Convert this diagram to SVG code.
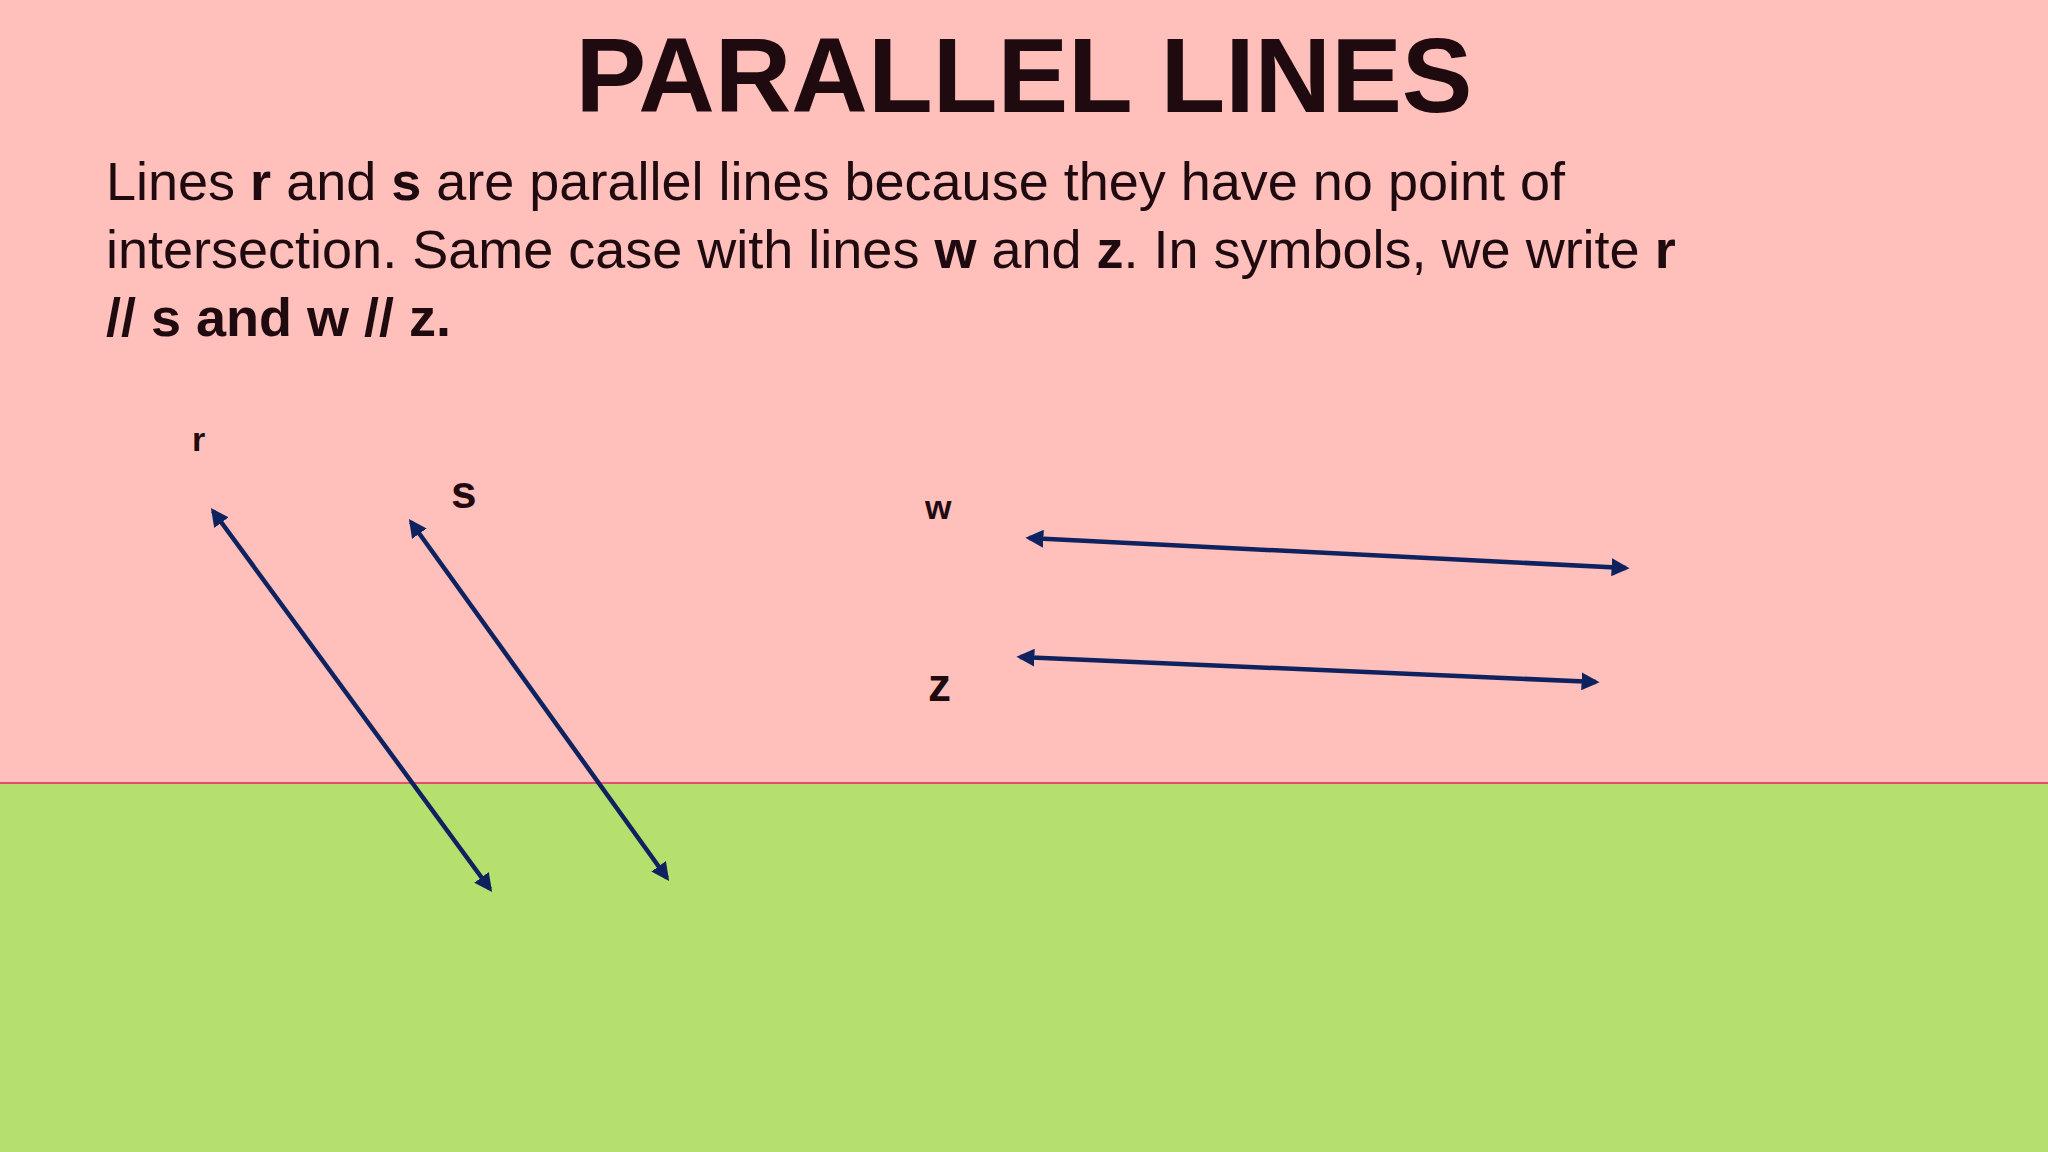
<svg xmlns="http://www.w3.org/2000/svg" width="2048" height="1152" viewBox="0 0 2048 1152">
<style>
.t{font-family:"Liberation Sans",Arial,sans-serif;fill:#1F0A10}
.b{font-weight:bold}
.ln{stroke:#0F2260;stroke-width:4.5;fill:none;marker-start:url(#a);marker-end:url(#a)}
</style>
<defs>
<marker id="a" viewBox="0 0 10 10" refX="8" refY="5" markerWidth="4" markerHeight="4" orient="auto-start-reverse"><path d="M0,0L10,5L0,10z" fill="#0F2260"/></marker>
</defs>
<rect width="2048" height="783" fill="#FFBFBB"/>
<rect y="783" width="2048" height="369" fill="#B5E06E"/>
<line x1="0" y1="783" x2="2048" y2="783" stroke="#E0506A" stroke-width="2"/>
<text class="t b" x="1024" y="112" font-size="106" text-anchor="middle">PARALLEL LINES</text>
<g class="t" font-size="54">
<text x="106" y="200">Lines <tspan class="b">r</tspan> and <tspan class="b">s</tspan> are parallel lines because they have no point of</text>
<text x="106" y="268">intersection. Same case with lines <tspan class="b">w</tspan> and <tspan class="b">z</tspan>. In symbols, we write <tspan class="b">r</tspan></text>
<text x="106" y="336" class="b">// s and w // z.</text>
</g>
<g id="labels" class="t b">
<text id="r" x="192" y="451" font-size="34">r</text>
<text id="s" x="451" y="508" font-size="46">s</text>
<text id="w" x="925" y="519" font-size="34">w</text>
<text id="z" x="928" y="701" font-size="46">z</text>
</g>
<g id="connectors">
<line class="ln" x1="213" y1="511" x2="490" y2="889"/>
<line class="ln" x1="411" y1="522" x2="667" y2="878"/>
<line class="ln" x1="1029" y1="538" x2="1626" y2="568"/>
<line class="ln" x1="1020" y1="657" x2="1596" y2="682"/>
</g>
</svg>
